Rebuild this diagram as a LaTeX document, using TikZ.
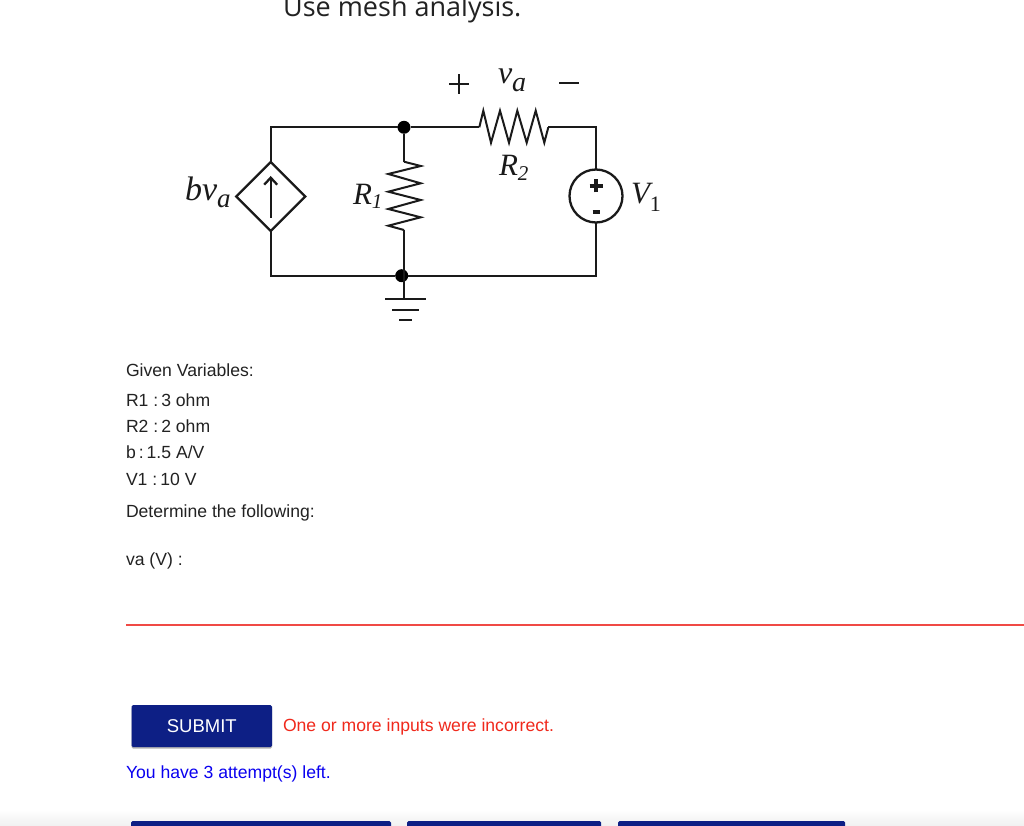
\documentclass[tikz,border=0pt]{standalone}
\usepackage{fontspec}
\setmainfont{Liberation Sans}
\newfontfamily\headfont{Open Sans}
\newfontfamily\mathfont{Liberation Serif}
\usetikzlibrary{shapes.geometric,arrows.meta}
\definecolor{btn}{HTML}{0D1F85}
\definecolor{errred}{HTML}{F0291C}
\definecolor{linered}{HTML}{F04A45}
\definecolor{blu}{HTML}{0A00F0}
\definecolor{txt}{HTML}{222222}
\definecolor{wirec}{HTML}{1A1A1A}
\tikzset{
  wire/.style={draw=wirec,line width=2.3pt,line join=miter},
  body/.style={anchor=base west,inner sep=0pt,outer sep=0pt,text=txt,font=\fontsize{17.6}{20}\selectfont},
  sym/.style={inner sep=0pt,outer sep=0pt,text=wirec,font=\mathfont\itshape\fontsize{31}{33}\selectfont},
  dot/.style={circle,fill=black,draw=none,minimum size=13pt,inner sep=0pt,outer sep=0pt},
  btnbox/.style={anchor=north west,fill=btn,draw=none,rounded corners=1.5pt,inner sep=0pt,outer sep=0pt},
}
\begin{document}
\begin{tikzpicture}[x=1pt,y=-1pt]
\useasboundingbox (0,0) rectangle (1024,826);
\clip (0,0) rectangle (1024,826);
\fill[white] (0,0) rectangle (1024,826);
\shade[top color=white,bottom color=black!6] (0,810) rectangle (1024,826);
% heading
\node[anchor=base west,inner sep=0pt,text=txt,font=\headfont\fontsize{27}{30}\selectfont] (head) at (283,16.5) {Use mesh analysis.};
% circuit nodes
\coordinate (tl) at (270.7,127.3);
\coordinate (bl) at (270.7,275.7);
\coordinate (tr) at (596,127.3);
\coordinate (br) at (596,275.7);
\node[dot] (ntop) at (404,127.3) {};
\node[dot] (nbot) at (401.7,275.7) {};
\node[diamond,aspect=1,draw=wirec,line width=2.3pt,minimum width=69pt,minimum height=69pt,inner sep=0pt,outer sep=0pt] (dep) at (270.7,196.5) {};
\node[circle,draw=wirec,line width=2.3pt,minimum size=53pt,inner sep=0pt,outer sep=0pt] (src) at (596,196) {};
\coordinate (r1a) at (404,161.7);
\coordinate (r1b) at (404,230);
\coordinate (r2a) at (479.3,127.3);
\coordinate (r2b) at (548.3,127.3);
\coordinate (g0) at (404,299);
\coordinate (g1a) at (385,299); \coordinate (g1b) at (426,299);
\coordinate (g2a) at (392,310); \coordinate (g2b) at (419,310);
\coordinate (g3a) at (399,320); \coordinate (g3b) at (412,320);
% wires
\draw[wire] (dep.north) -- (tl) -- (ntop);
\draw[wire] (dep.south) -- (bl) -- (nbot);
\draw[wire] (ntop) -- (r2a);
\draw[wire] (r2b) -- (tr) -- (src.north);
\draw[wire] (src.south) -- (br) -- (nbot);
\draw[wire] (ntop) -- (r1a);
\draw[wire] (r1b) -- (404,275);
\draw[wire,line width=2pt] (r1a) -- (420.7,166) -- (388.3,174) -- (420.7,183.3) -- (388.3,191.7) -- (420.7,200) -- (388.3,209) -- (420.7,217.3) -- (388.3,225.7) -- (r1b);
\draw[wire,line width=2pt] (r2a) -- (483.3,110.7) -- (491,142.7) -- (500,110.7) -- (509,142.7) -- (517.3,110.7) -- (526.7,142.7) -- (535.7,110.7) -- (544.3,142.7) -- (r2b);
\draw[wire] (404,275) -- (g0);
\draw[wire] (g1a) -- (g1b);
\draw[wire] (g2a) -- (g2b);
\draw[wire] (g3a) -- (g3b);
% arrow in the dependent source
\coordinate (ar0) at (270.7,218);
\coordinate (ar1) at (270.7,176);
\draw[wire,-{Straight Barb[length=7pt,width=13pt,line width=2.3pt]}] (ar0) -- (ar1);
% source polarity
\coordinate (sp) at (596,186);
\coordinate (sm) at (596,212);
\draw[draw=wirec,line width=3.2pt] ([xshift=-6.5pt]sp) -- ([xshift=6.5pt]sp) ([yshift=-6.5pt]sp) -- ([yshift=6.5pt]sp);
\draw[draw=wirec,line width=3.2pt] ([xshift=-3.5pt]sm) -- ([xshift=3.5pt]sm);
% va polarity
\coordinate (pp) at (459,84); \coordinate (mm) at (569,83);
\draw[draw=wirec,line width=1.9pt] ([xshift=-10pt]pp) -- ([xshift=10pt]pp) ([yshift=-10pt]pp) -- ([yshift=10pt]pp);
\draw[draw=wirec,line width=1.9pt] ([xshift=-10pt]mm) -- ([xshift=10pt]mm);
% symbol labels
\node[sym,anchor=base west,font=\mathfont\itshape\fontsize{34}{36}\selectfont] (lbv) at (185,200.5) {bv\raisebox{-7pt}{\fontsize{27}{29}\selectfont a}};
\node[sym,anchor=base west] (lr1) at (353,205) {R\raisebox{-4pt}{\fontsize{21}{23}\selectfont 1}};
\node[sym,anchor=base west] (lr2) at (499,176) {R\raisebox{-5pt}{\fontsize{21}{23}\selectfont 2}};
\node[sym,anchor=base west] (lv1) at (631,204) {V\raisebox{-8pt}{\upshape\fontsize{22}{24}\selectfont 1}};
\node[sym,anchor=base west,font=\mathfont\itshape\fontsize{32}{34}\selectfont] (lva) at (498,84) {v\raisebox{-8pt}{\fontsize{28}{30}\selectfont a}};
% text
\node[body] (t1) at (126,376) {Given Variables:};
\node[body] (t2) at (126,406) {R1 :\hspace{3pt}3 ohm};
\node[body] (t3) at (126,432.5) {R2 :\hspace{3pt}2 ohm};
\node[body] (t4) at (126,458.5) {b\hspace{3pt}:\hspace{3pt}1.5 A/V};
\node[body] (t5) at (126,485) {V1 :\hspace{3pt}10 V};
\node[body] (t6) at (126,517) {Determine the following:};
\node[body] (t7) at (126,565) {va (V) :};
\coordinate (la) at (126,625); \coordinate (lb) at (1024,625);
\draw[draw=linered,line width=1.2pt] (la) -- (lb);
% button
\fill[black!30,rounded corners=1.5pt] (131.5,707) rectangle (272,748.5);
\node[btnbox,minimum width=140.5pt,minimum height=42pt,text=white,font=\fontsize{18.5}{21}\selectfont] (submit) at (131.5,705) {SUBMIT};
\node[body,text=errred,font=\fontsize{17.6}{20}\selectfont] (err) at (283,731) {One or more inputs were incorrect.};
\node[body,text=blu,font=\fontsize{17.6}{20}\selectfont] (att) at (126,778) {You have 3 attempt(s) left.};
% bottom buttons
\node[btnbox,minimum width=260pt,minimum height=10pt] (b1) at (131,821) {};
\node[btnbox,minimum width=194pt,minimum height=10pt] (b2) at (407,821) {};
\node[btnbox,minimum width=227pt,minimum height=10pt] (b3) at (618,821) {};
\end{tikzpicture}
\end{document}
